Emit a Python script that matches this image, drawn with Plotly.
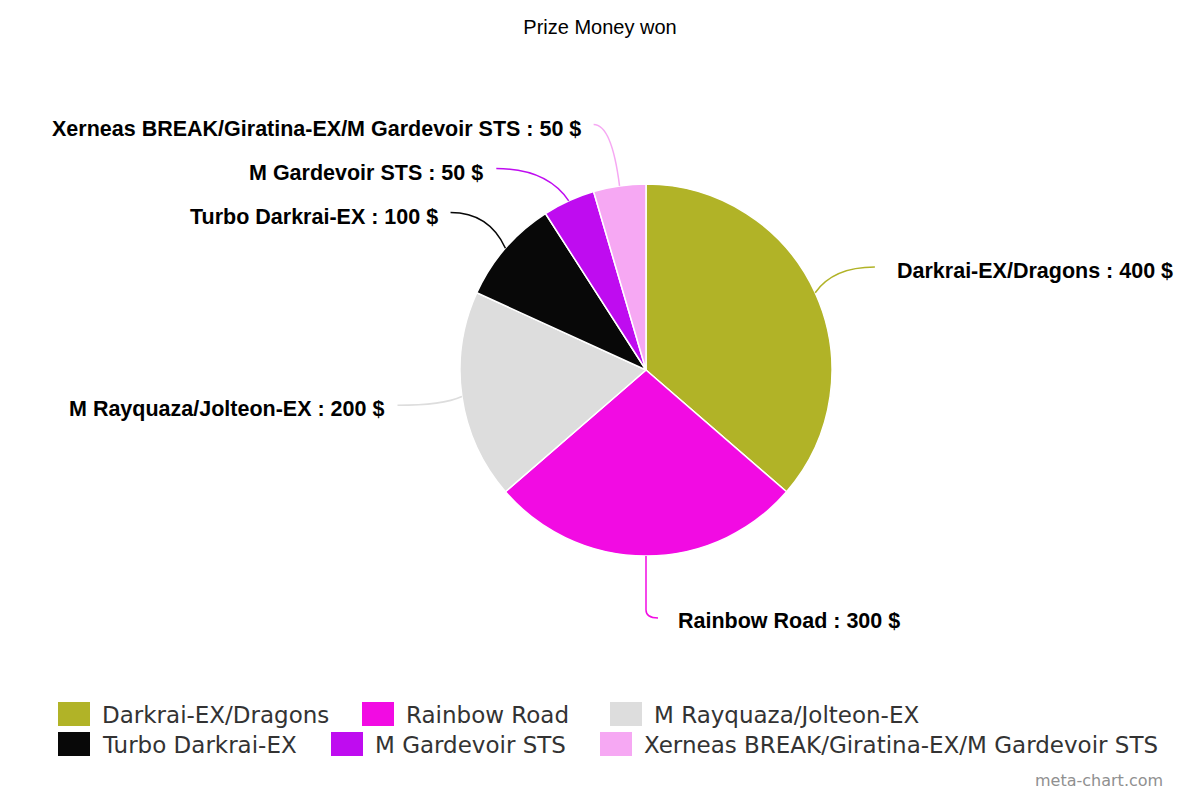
import math
import plotly.graph_objects as go

# data
decks = ["Darkrai-EX/Dragons", "Rainbow Road", "M Rayquaza/Jolteon-EX",
         "Turbo Darkrai-EX", "M Gardevoir STS", "Xerneas BREAK/Giratina-EX/M Gardevoir STS"]
prize = [400, 300, 200, 100, 50, 50]
colors = ["#B1B327", "#F20BE3", "#DDDDDD", "#080808", "#BF0CF0", "#F6A8F3"]

W, H = 1200, 800
CX, CY, R = 646, 370, 186   # pie centre / radius in px

# legend layout (row, swatch left x)
LEG_ROWS = [0, 0, 0, 1, 1, 1]
LEG_X = [58, 362, 610, 58, 331, 600]
LEG_Y0 = 714
LEG_DY = 30


fig = go.Figure()
fig.add_trace(go.Pie(
    labels=decks,
    values=prize,
    marker=dict(colors=colors, line=dict(color="white", width=1.5)),
    sort=False,
    direction="clockwise",
    rotation=0,
    textinfo="none",
    hoverinfo="label+value",
    showlegend=False,
    domain=dict(x=[(CX - R) / W, (CX + R) / W], y=[1 - (CY + R) / H, 1 - (CY - R) / H]),
))

# outside labels with connectors (positions from slice angles)
total = sum(prize)
labels = []
start = 0
for name, v, c in zip(decks, prize, colors):
    a = (start + v / 2) / total * 2 * math.pi
    start += v
    labels.append(dict(name=name, v=v, c=c, a=a,
                       ex=CX + R * math.sin(a), ey=CY - R * math.cos(a),
                       ly=CY - (R + 62) * math.cos(a)))

# push left side labels apart (top down)
left = sorted([l for l in labels if math.sin(l["a"]) < -0.05], key=lambda l: l["ly"])
for i in range(1, len(left)):
    if left[i]["ly"] - left[i - 1]["ly"] < 44:
        left[i]["ly"] = left[i - 1]["ly"] + 44

RL = 251
shapes = []
annotations = []
for l in labels:
    s = math.sin(l["a"])
    ex, ey = l["ex"], l["ey"]
    if abs(s) < 0.05:
        # bottom label
        mx, my = ex, ey + 62
        path = (f"M {ex/W},{1-ey/H} L {mx/W},{1-(my-8)/H} "
                f"Q {mx/W},{1-my/H} {(mx+12)/W},{1-my/H}")
        tx, anchor, ty = mx + 30, "left", my + 3
    else:
        side = 1 if s > 0 else -1
        my = l["ly"]
        dy = my - CY
        mx = CX + side * math.sqrt(max(RL ** 2 - dy ** 2, 0))
        cx_ = mx + 0.7 * (ex - mx)
        path = f"M {ex/W},{1-ey/H} Q {cx_/W},{1-my/H} {mx/W},{1-my/H}"
        gap = 20 if side > 0 else 11
        tx, anchor, ty = mx + side * gap, "left" if side > 0 else "right", my + 4
    shapes.append(dict(type="path", path=path, xref="paper", yref="paper",
                       line=dict(color=l["c"], width=1.5)))
    annotations.append(dict(x=tx / W, y=1 - ty / H, xref="paper", yref="paper",
                            text=f"<b>{l['name']} : {l['v']} $</b>", showarrow=False,
                            xanchor=anchor, yanchor="middle",
                            font=dict(family="Liberation Sans, Arial", size=21.5, color="black")))

# legend: swatch + name per category
for name, c, row, lx in zip(decks, colors, LEG_ROWS, LEG_X):
    yc = LEG_Y0 + row * LEG_DY
    shapes.append(dict(type="rect", xref="paper", yref="paper",
                       x0=lx / W, x1=(lx + 32) / W, y0=1 - (yc - 12) / H, y1=1 - (yc + 12) / H,
                       fillcolor=c, line=dict(width=0)))
    annotations.append(dict(x=(lx + 42) / W, y=1 - (yc + 1) / H, xref="paper", yref="paper",
                            text=name, showarrow=False, xanchor="left", yanchor="middle",
                            font=dict(family="DejaVu Sans", size=23, color="#333333")))

annotations.append(dict(x=1165 / W, y=1 - 780 / H, xref="paper", yref="paper",
                        text="meta-chart.com", showarrow=False, xanchor="right", yanchor="middle",
                        font=dict(family="DejaVu Sans", size=16, color="#909090")))

fig.update_layout(
    width=W, height=H,
    margin=dict(l=0, r=0, t=0, b=0),
    paper_bgcolor="white",
    plot_bgcolor="white",
    title=dict(text="Prize Money won", x=0.5, xanchor="center", y=1 - 27 / H, yanchor="middle",
               font=dict(family="Liberation Sans, Arial", size=20, color="black")),
    showlegend=False,
    shapes=shapes,
    annotations=annotations,
)

fig.write_html("out.html", config={"displayModeBar": False},
               post_script="document.body.style.margin='0';")
